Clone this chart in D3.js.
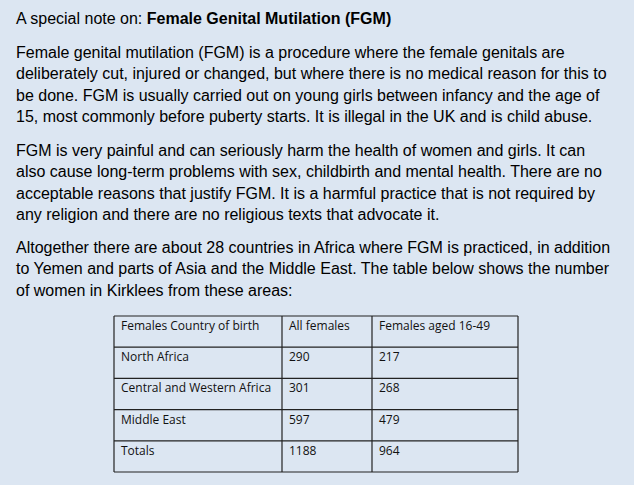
<!DOCTYPE html>
<html><head><meta charset="utf-8">
<script src="https://cdn.jsdelivr.net/npm/d3@7"></script>
<style>body{margin:0;background:#fff}</style>
</head><body><div id="chart"></div>
<script>
const paragraphs = [
  ["Female genital mutilation (FGM) is a procedure where the female genitals are",
   "deliberately cut, injured or changed, but where there is no medical reason for this to",
   "be done. FGM is usually carried out on young girls between infancy and the age of",
   "15, most commonly before puberty starts.  It is illegal in the UK and is child abuse."],
  ["FGM is very painful and can seriously harm the health of women and girls.  It can",
   "also cause long-term problems with sex, childbirth and mental health. There are no",
   "acceptable reasons that justify FGM.  It is a harmful practice that is not required by",
   "any religion and there are no religious texts that advocate it."],
  ["Altogether there are about 28 countries in Africa where FGM is practiced, in addition",
   "to Yemen and parts of Asia and the Middle East.  The table below shows the number",
   "of women in Kirklees from these areas:"]
];
const paraBaselines = [58, 156, 253];
const headers = ["Females Country of birth", "All females", "Females aged 16-49"];
const regions = ["North Africa", "Central and Western Africa", "Middle East", "Totals"];
const allFemales = [290, 301, 597, 1188];
const aged1649 = [217, 268, 479, 964];

const W = 635, H = 486;
const svg = d3.select("#chart").append("svg").attr("width", W).attr("height", H);
svg.append("rect").attr("x", 0).attr("y", 0).attr("width", 634).attr("height", 485).attr("fill", "#dce6f2");

const t = svg.append("text").attr("x", 16).attr("y", 24)
  .attr("font-family", "Liberation Sans, Arial, sans-serif").attr("font-size", 16).attr("fill", "#000");
t.append("tspan").text("A special note on: ");
t.append("tspan").attr("font-weight", "bold").text("Female Genital Mutilation (FGM)");

paragraphs.forEach((lines, p) => {
  svg.append("g").selectAll("text").data(lines).join("text")
    .attr("x", 16).attr("y", (d, i) => paraBaselines[p] + i * 21.4)
    .attr("font-family", "Liberation Sans, Arial, sans-serif").attr("font-size", 16)
    .attr("fill", "#000").text(d => d);
});

// table
const rows = [headers].concat(regions.map((r, i) => [r, String(allFemales[i]), String(aged1649[i])]));
const colEdges = [114, 282, 372, 518];
const y = d3.scaleBand().domain(d3.range(rows.length)).range([316, 472]);
const tg = svg.append("g");
tg.selectAll("line.h").data(d3.range(rows.length + 1)).join("line")
  .attr("x1", colEdges[0]).attr("x2", colEdges[3])
  .attr("y1", d => d < rows.length ? y(d) : y.range()[1])
  .attr("y2", d => d < rows.length ? y(d) : y.range()[1])
  .attr("stroke", "#222").attr("stroke-width", 1.2);
tg.selectAll("line.v").data(colEdges).join("line")
  .attr("x1", d => d).attr("x2", d => d).attr("y1", 316).attr("y2", 472)
  .attr("stroke", "#222").attr("stroke-width", 1.2);
rows.forEach((r, i) => {
  tg.append("g").selectAll("text").data(r).join("text")
    .attr("x", (d, j) => colEdges[j] + 7).attr("y", y(i) + 14)
    .attr("font-family", "Open Sans, sans-serif").attr("font-size", 12)
    .attr("fill", "#111").text(d => d);
});
</script></body></html>
